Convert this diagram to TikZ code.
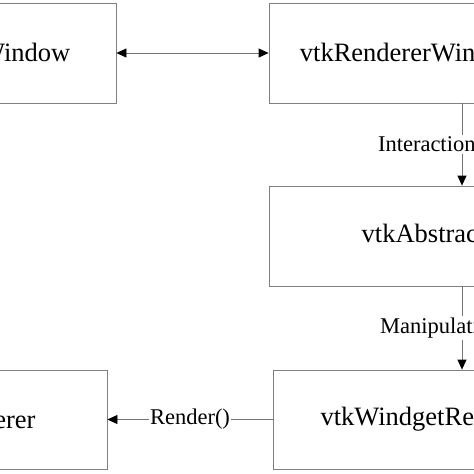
\documentclass[tikz,border=0pt]{standalone}
\usepackage{fontspec}
\setmainfont{Liberation Serif}
\usetikzlibrary{arrows.meta}

\begin{document}
\begin{tikzpicture}[x=1pt,y=-1pt,
  >={Triangle[length=10pt,width=9pt,black]},
  box/.style={draw=black!50,line width=0.8pt,minimum height=100pt,inner sep=0pt,font=\fontsize{26.5}{30}\selectfont},
  lbl/.style={fill=white,inner xsep=1pt,inner ysep=2pt,font=\fontsize{22.5}{26}\selectfont},
  conn/.style={draw=black!55,line width=0.8pt}]

\useasboundingbox (0,0) rectangle (474,474);
\clip (0,0) rectangle (474,474);

% draw boxes
\node[box,minimum width=292pt] (win) at (-30,53) {vtkRenderWindow};
\node[box,minimum width=386pt] (inter) at (462,53) {vtkRendererWindowInteractor};
\node[box,minimum width=386pt] (widget) at (462,236) {vtkAbstractWidget};
\node[box,minimum width=378pt,minimum height=99pt] (rep) at (462,419.5) {vtkWindgetRepresentation};
\node[box,minimum width=274pt,minimum height=99pt] (ren) at (-30,419.5) {vtkRenderer};

% draw connectors
\draw[conn,<->] (win) -- (inter);
\draw[conn,->] (inter) -- node[lbl,xshift=-9pt] {InteractionEvent} (widget);
\draw[conn,->] (widget) -- node[lbl,xshift=5pt] {ManipulationEvent} (rep);
\draw[conn,->] (rep) -- node[lbl] {Render()} (ren);

\end{tikzpicture}
\end{document}
